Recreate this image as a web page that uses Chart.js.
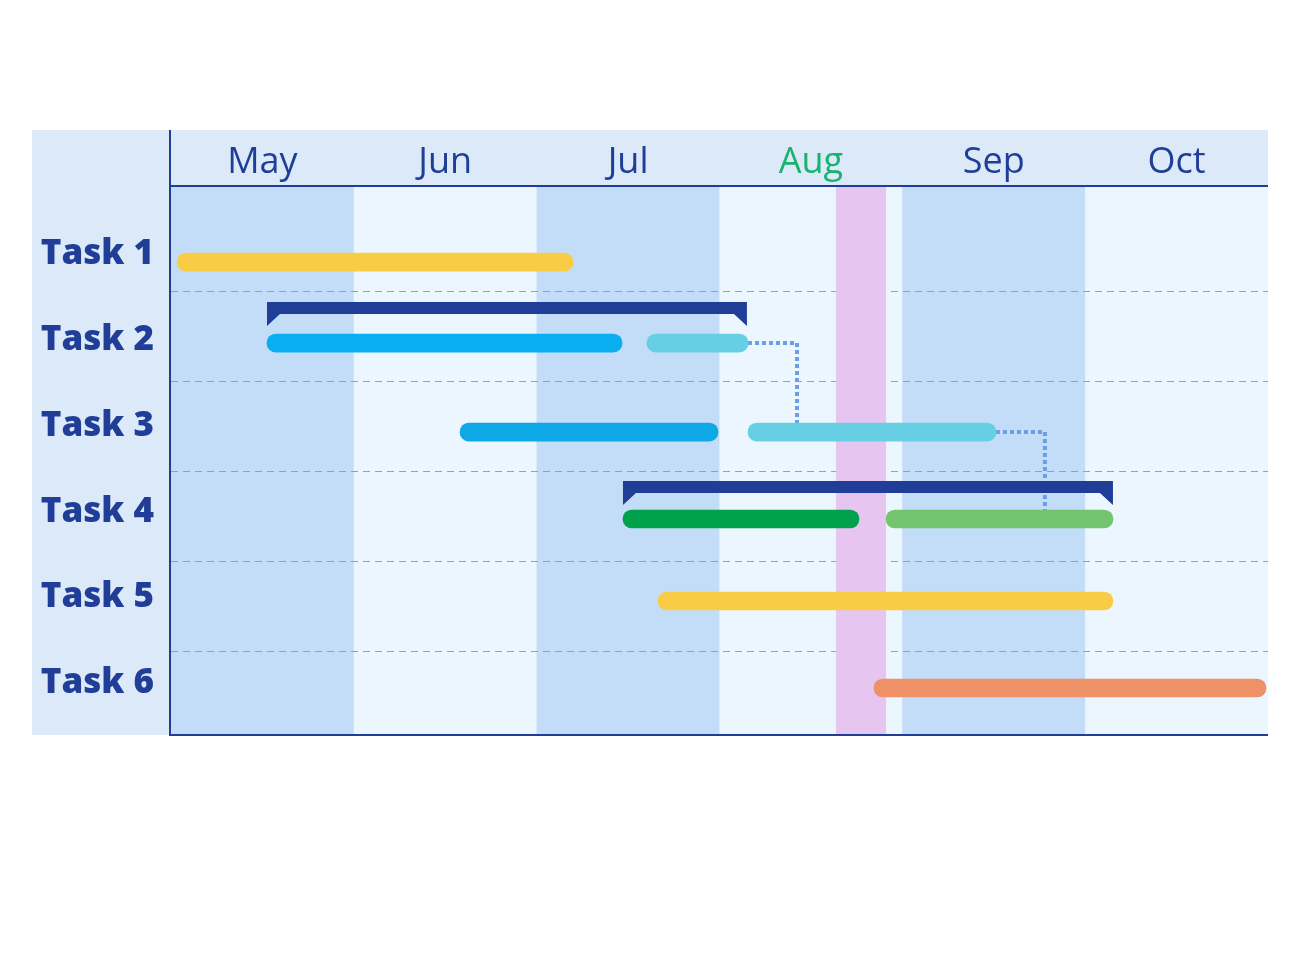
<!DOCTYPE html>
<html>
<head>
<meta charset="utf-8">
<script src="https://cdn.jsdelivr.net/npm/chart.js@4.4.1/dist/chart.umd.min.js"></script>
<style>
    html, body { margin: 0; background: #fff; }
    #gantt { display: block; }
</style>
</head>
<body>
<canvas id="gantt" width="1300" height="956"></canvas>
<script>
// ─── data (x in months from start of May, y in rows) ────────────────────────

const MONTHS = ['May', 'Jun', 'Jul', 'Aug', 'Sep', 'Oct'];
const TASKS = ['Task 1', 'Task 2', 'Task 3', 'Task 4', 'Task 5', 'Task 6'];
const LABEL_ROW = [0.590, 1.540, 2.495, 3.450, 4.405, 5.360];
const ROW_LINES = [1, 2, 3, 4, 5];

const BAR_ROW   = [0.678, 1.578, 1.578, 2.567, 2.567, 3.533, 3.533, 4.444, 5.411];
const BAR_START = [0.033, 0.525, 2.603, 1.581, 3.156, 2.472, 3.911, 2.664, 3.845];
const BAR_END   = [2.199, 2.467, 3.156, 2.992, 4.512, 3.763, 5.152, 5.152, 5.989];
const BAR_COLOR = ['#f8cd45', '#08aeef', '#66cfe3', '#0ea8e7', '#66cfe3',
                   '#00a14b', '#73c46f', '#f8cd45', '#ef9166'];

const BRACKET_ROW   = [1.189, 3.178];
const BRACKET_START = [0.525, 2.472];
const BRACKET_END   = [3.150, 5.152];

const LINK_X = [[3.156, 3.424, 3.424], [4.512, 4.780, 4.780]];
const LINK_Y = [[1.578, 1.578, 2.467], [2.567, 2.567, 3.433]];

const HOLIDAY = [3.637, 3.911];

// ─── colours ────────────────────────────────────────────────────────────────

const NAVY = '#203e98';
const PANEL = '#dbe9f8';
const COL_DARK = '#c3ddf9';
const COL_LIGHT = '#ecf6fe';

// ─── drawing helpers ────────────────────────────────────────────────────────

const ganttBackdrop = {
    id: 'ganttBackdrop',
    beforeDraw(chart) {
        const {ctx, chartArea: a, scales: {x, y}} = chart;
        ctx.save();
        ctx.fillStyle = PANEL;
        ctx.fillRect(y.left, x.top, a.right - y.left, a.bottom - x.top);

        MONTHS.forEach((m, i) => {
            const x0 = x.getPixelForValue(i);
            const x1 = x.getPixelForValue(i + 1);
            ctx.fillStyle = i % 2 ? COL_LIGHT : COL_DARK;
            ctx.fillRect(x0, a.top, x1 - x0, a.bottom - a.top);
        });

        ctx.strokeStyle = '#7ba5db';
        ctx.lineWidth = 1;
        ctx.setLineDash([7, 5]);
        ROW_LINES.forEach(v => {
            const py = Math.round(y.getPixelForValue(v)) + 0.5;
            ctx.beginPath();
            ctx.moveTo(a.left, py);
            ctx.lineTo(a.right, py);
            ctx.stroke();
        });
        ctx.setLineDash([]);

        const h0 = x.getPixelForValue(HOLIDAY[0]);
        const h1 = x.getPixelForValue(HOLIDAY[1]);
        ctx.fillStyle = '#e6c5f0';
        ctx.fillRect(h0, a.top, h1 - h0, a.bottom - a.top);
        ctx.restore();
    },
    afterDatasetsDraw(chart) {
        const {ctx, scales: {x, y}} = chart;
        ctx.save();
        ctx.fillStyle = NAVY;
        BRACKET_ROW.forEach((r, i) => {
            const l = x.getPixelForValue(BRACKET_START[i]);
            const rr = x.getPixelForValue(BRACKET_END[i]);
            const cy = y.getPixelForValue(r);
            const top = cy - 6, bot = cy + 6, tip = cy + 18;
            ctx.beginPath();
            ctx.moveTo(l, top);
            ctx.lineTo(rr, top);
            ctx.lineTo(rr, tip);
            ctx.lineTo(rr - 13, bot);
            ctx.lineTo(l + 13, bot);
            ctx.lineTo(l, tip);
            ctx.closePath();
            ctx.fill();
        });
        ctx.restore();
    },
    afterDraw(chart) {
        const {ctx, chartArea: a, scales: {x}} = chart;
        ctx.save();
        ctx.strokeStyle = NAVY;
        ctx.lineWidth = 2;
        ctx.beginPath();
        ctx.moveTo(a.left - 1, x.top);
        ctx.lineTo(a.left - 1, a.bottom + 1);
        ctx.moveTo(a.left - 1, a.top - 1);
        ctx.lineTo(a.right, a.top - 1);
        ctx.moveTo(a.left - 1, a.bottom);
        ctx.lineTo(a.right, a.bottom);
        ctx.stroke();
        ctx.restore();
    }
};

// ─── chart ──────────────────────────────────────────────────────────────────

const linkSets = LINK_X.map((xs, i) => ({
    type: 'line',
    data: xs.map((v, j) => ({x: v, y: LINK_Y[i][j]})),
    borderColor: '#6c9ee8',
    borderWidth: 4,
    borderDash: [4, 3],
    pointRadius: 0,
    fill: false,
    tension: 0,
}));

new Chart(document.getElementById('gantt'), {
    type: 'bar',
    data: {
        datasets: [
            {
                type: 'bar',
                indexAxis: 'y',
                data: BAR_ROW.map((r, i) => ({y: r, x: [BAR_START[i], BAR_END[i]]})),
                backgroundColor: BAR_COLOR,
                barThickness: 18,
                borderRadius: 9,
                borderSkipped: false,
                grouped: false,
            },
            ...linkSets,
        ],
    },
    options: {
        responsive: false,
        animation: false,
        events: [],
        layout: {padding: {left: 32, top: 130, right: 32, bottom: 221}},
        plugins: {legend: {display: false}, tooltip: {enabled: false}},
        scales: {
            x: {
                type: 'linear',
                position: 'top',
                min: 0,
                max: 6,
                offset: false,
                afterBuildTicks: s => { s.ticks = MONTHS.map((m, i) => ({value: i + 0.5})); },
                afterFit: s => { s.height = 57; },
                grid: {display: false, drawTicks: false, offset: false},
                border: {display: false},
                ticks: {
                    autoSkip: false,
                    maxRotation: 0,
                    padding: 3,
                    callback: (v, i) => MONTHS[i],
                    color: c => (c.index === 3 ? '#1ab26f' : NAVY),
                    font: {family: 'Open Sans', size: 36},
                },
            },
            y: {
                type: 'linear',
                reverse: true,
                min: -0.156,
                max: 5.933,
                offset: false,
                afterBuildTicks: s => { s.ticks = LABEL_ROW.map(v => ({value: v})); },
                afterFit: s => { s.width = 139; },
                grid: {display: false, drawTicks: false, offset: false},
                border: {display: false},
                ticks: {
                    autoSkip: false,
                    padding: 17,
                    callback: (v, i) => TASKS[i],
                    color: NAVY,
                    font: {family: 'Open Sans', size: 35, weight: 800},
                },
            },
        },
    },
    plugins: [ganttBackdrop],
});
</script>
</body>
</html>
